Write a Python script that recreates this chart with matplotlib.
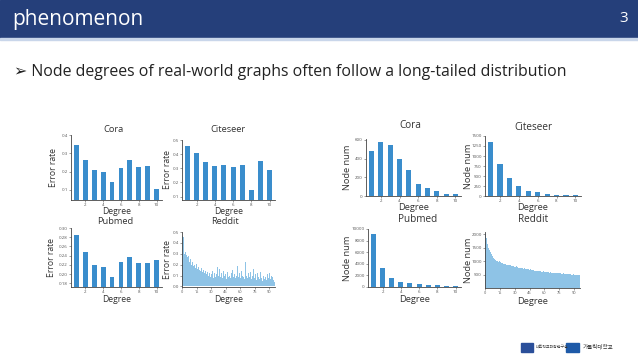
import matplotlib
matplotlib.use("Agg")
import matplotlib.pyplot as plt
from matplotlib.patches import Rectangle

plt.rcParams['font.family'] = ['Open Sans', 'DejaVu Sans', 'Noto Sans CJK KR']

W, H = 638, 359

# ---- data ----
degrees = list(range(1, 11))
cora_err = [0.345, 0.265, 0.21, 0.20, 0.145, 0.22, 0.265, 0.227, 0.23, 0.105]
citeseer_err = [0.46, 0.405, 0.347, 0.316, 0.325, 0.31, 0.325, 0.15, 0.35, 0.29]
pubmed_err = [0.284, 0.249, 0.22, 0.215, 0.194, 0.227, 0.237, 0.223, 0.223, 0.231]
reddit_err = [0.46, 0.45, 0.30, 0.32, 0.29, 0.27, 0.28, 0.22, 0.25, 0.20,
              0.22, 0.19, 0.20, 0.17, 0.21, 0.16, 0.18, 0.15, 0.14, 0.17,
              0.13, 0.15, 0.12, 0.14, 0.11, 0.13, 0.10, 0.12, 0.09, 0.11,
              0.14, 0.10, 0.08, 0.12, 0.09, 0.11, 0.18, 0.10, 0.16, 0.09,
              0.12, 0.08, 0.14, 0.10, 0.11, 0.07, 0.13, 0.09, 0.10, 0.08,
              0.12, 0.15, 0.09, 0.11, 0.08, 0.10, 0.19, 0.09, 0.12, 0.08,
              0.14, 0.10, 0.09, 0.11, 0.07, 0.22, 0.10, 0.08, 0.12, 0.09,
              0.13, 0.07, 0.10, 0.16, 0.08, 0.11, 0.06, 0.12, 0.09, 0.07,
              0.13, 0.08, 0.05, 0.10, 0.07, 0.09, 0.06, 0.11, 0.08, 0.12,
              0.07, 0.10, 0.09, 0.06, 0.04]

cora_num = [480, 582, 547, 392, 283, 127, 81, 56, 25, 25]
citeseer_num = [1350, 800, 442, 242, 133, 108, 50, 25, 17, 25]
pubmed_num = [9055, 3330, 1555, 944, 611, 444, 390, 280, 222, 200]
reddit_num = [2000, 1850, 1650, 1500, 1400, 1320, 1250, 1180, 1130, 1080,
              1040, 1020, 1000, 980, 990, 960, 940, 920, 900, 910,
              880, 870, 860, 850, 840, 850, 830, 810, 800, 790,
              780, 800, 770, 760, 750, 760, 740, 730, 720, 735,
              710, 700, 690, 700, 680, 690, 670, 660, 670, 650,
              640, 650, 640, 630, 620, 630, 610, 600, 615, 600,
              590, 580, 600, 590, 570, 580, 560, 570, 560, 575,
              550, 560, 545, 550, 540, 560, 535, 530, 545, 520,
              530, 515, 525, 510, 505, 520, 500, 495, 510, 490,
              500, 485, 480, 490, 470]

deg_ticks = [2, 4, 6, 8, 10]
reddit_ticks = [0, 15, 30, 45, 60, 75, 90]

BAR = '#3a8dcc'
BAR_LIGHT = '#8ec3e6'
NAVY = '#253f7a'

fig = plt.figure(figsize=(W / 100, H / 100), dpi=100)


def px_axes(x0, y0, x1, y1):
    # pixel box (top-left origin) -> figure axes
    return fig.add_axes([x0 / W, 1 - y1 / H, (x1 - x0) / W, (y1 - y0) / H])


def bar_panel(box, x, y, title, ylabel, ylim, yticks, yfmt, xticks, xlim,
              color=BAR, width=0.55, title_xy=None, ylab_x=None, xlab_y=None,
              fs=6.5, tfs=3.2, xtfs=None):
    ax = px_axes(*box)
    ax.bar(x, y, width=width, color=color, linewidth=0)
    ax.set_ylim(*ylim)
    ax.set_xlim(*xlim)
    ax.set_yticks(yticks)
    ax.set_yticklabels([yfmt.format(v) for v in yticks])
    ax.set_xticks(xticks)
    for s in ['top', 'right']:
        ax.spines[s].set_visible(False)
    for s in ['left', 'bottom']:
        ax.spines[s].set_color('#444444')
        ax.spines[s].set_linewidth(0.6)
    ax.tick_params(labelsize=tfs, length=1.5, width=0.4, pad=0.8,
                   colors='#555555')
    if xtfs:
        ax.tick_params(axis='x', labelsize=xtfs)
    fig.text(title_xy[0] / W, 1 - title_xy[1] / H, title, fontsize=fs + 0.5,
             ha='center', va='center', color='#333333')
    fig.text(ylab_x / W, 1 - (box[1] + box[3]) / 2 / H, ylabel, fontsize=fs,
             rotation=90, ha='center', va='center', color='#333333')
    fig.text((box[0] + box[2]) / 2 / W, 1 - xlab_y / H, 'Degree',
             fontsize=fs, ha='center', va='center', color='#333333')
    return ax


# header band
fig.patches.append(Rectangle((0, 1 - 38 / H), 1, 38 / H, transform=fig.transFigure,
                             color=NAVY, zorder=0))
fig.patches.append(Rectangle((0, 1 - 40 / H), 1, 2 / H, transform=fig.transFigure,
                             color='#c9d6ea', zorder=0))
fig.text(12 / W, 1 - 20 / H, 'phenomenon', fontsize=15, color='white',
         ha='left', va='center')
fig.text(624 / W, 1 - 19 / H, '3', fontsize=11, color='white',
         ha='center', va='center')
fig.text(14 / W, 1 - 72 / H,
         '\u27a2 Node degrees of real-world graphs often follow a long-tailed distribution',
         fontsize=11.4, color='#222222', ha='left', va='center')

# left group: error rate
bar_panel((71, 135, 162, 200), degrees, cora_err, 'Cora', 'Error rate',
          (0.045, 0.4), [0.1, 0.2, 0.3, 0.4], '{:.1f}', deg_ticks, (0.4, 10.6),
          title_xy=(113, 130), ylab_x=54, xlab_y=212, fs=6.2)
bar_panel((182, 140, 275, 200), degrees, citeseer_err, 'Citeseer', 'Error rate',
          (0.076, 0.5), [0.1, 0.2, 0.3, 0.4, 0.5], '{:.1f}', deg_ticks, (0.4, 10.6),
          title_xy=(228, 130), ylab_x=168, xlab_y=212, fs=6.2)
bar_panel((71, 228, 162, 287), degrees, pubmed_err, 'Pubmed', 'Error rate',
          (0.172, 0.30), [0.18, 0.20, 0.22, 0.24, 0.26, 0.28, 0.30], '{:.2f}',
          deg_ticks, (0.4, 10.6),
          title_xy=(115, 222), ylab_x=52, xlab_y=300, fs=6.2)
bar_panel((182, 232, 275, 287), list(range(1, len(reddit_err) + 1)), reddit_err,
          'Reddit', 'Error rate', (-0.005, 0.5), [0.0, 0.1, 0.2, 0.3, 0.4, 0.5],
          '{:.1f}', reddit_ticks, (0, 96), color=BAR_LIGHT, width=1.0,
          title_xy=(225, 222), ylab_x=168, xlab_y=300, fs=6.2, xtfs=2.8)

# right group: node num
bar_panel((366, 139, 461, 196), degrees, cora_num, 'Cora', 'Node num',
          (0, 610), [0, 200, 400, 600], '{:d}', deg_ticks, (0.4, 10.6),
          title_xy=(410, 126), ylab_x=348, xlab_y=208, fs=6.7)
bar_panel((485, 136, 581, 196), degrees, citeseer_num, 'Citeseer', 'Node num',
          (0, 1500), [0, 250, 500, 750, 1000, 1250, 1500], '{:d}', deg_ticks,
          (0.4, 10.6),
          title_xy=(533, 127), ylab_x=468, xlab_y=208, fs=6.7)
bar_panel((368, 229, 461, 287), degrees, pubmed_num, 'Pubmed', 'Node num',
          (0, 10000), [0, 2000, 4000, 6000, 8000, 10000], '{:d}', deg_ticks,
          (0.4, 10.6),
          title_xy=(418, 219), ylab_x=348, xlab_y=300, fs=6.7)
bar_panel((485, 232, 580, 288), list(range(1, len(reddit_num) + 1)), reddit_num,
          'Reddit', 'Node num', (0, 2080), [500, 1000, 1500, 2000], '{:d}',
          reddit_ticks, (0, 96), color=BAR_LIGHT, width=1.0,
          title_xy=(533, 219), ylab_x=468, xlab_y=301, fs=6.7, xtfs=2.8)

# logos bottom right
fig.patches.append(Rectangle((521 / W, 1 - 352 / H), 12 / W, 9 / H,
                             transform=fig.transFigure, color='#2b4f9a'))
fig.text(536 / W, 1 - 347 / H, '네트워크과학연구실', fontsize=2.8,
         color='#333333', ha='left', va='center')
fig.patches.append(Rectangle((566 / W, 1 - 352 / H), 13 / W, 9 / H,
                             transform=fig.transFigure, color='#1e5aa8'))
fig.text(583 / W, 1 - 347 / H, '가톨릭대학교', fontsize=4,
         color='#333333', ha='left', va='center')

fig.savefig('out.png', dpi=100)
